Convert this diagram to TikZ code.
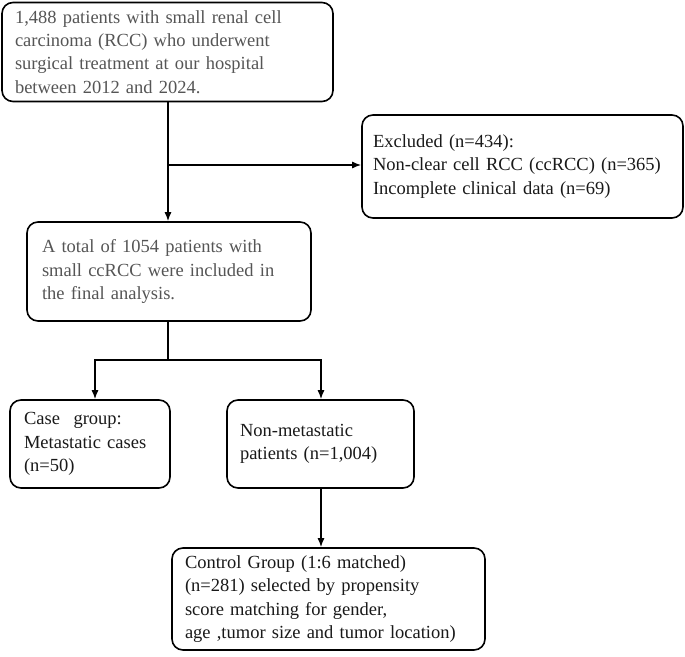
\documentclass[tikz,border=0pt]{standalone}
\usepackage{fontspec}
\setmainfont{Liberation Serif}
\usetikzlibrary{arrows.meta,calc}
\definecolor{greytext}{RGB}{85,85,85}
\definecolor{darktext}{RGB}{25,25,25}
\tikzset{
  flowbox/.style={draw=black, line width=1.6pt, rounded corners=11pt, align=left,
    font=\fontsize{18.5}{23.2}\selectfont, inner ysep=3pt, anchor=center},
  conn/.style={line width=1.4pt, draw=black},
  arr/.style={conn, -{Latex[length=9pt,width=7pt]}}
}
\begin{document}
\begin{tikzpicture}[x=1pt,y=-1pt]
\useasboundingbox (0,0) rectangle (685,656);
\node[flowbox, text=greytext, inner xsep=13pt, text width=305pt, minimum width=331pt, minimum height=99pt] (b1) at (167.5,52)
 {1,488 patients with small renal cell\\carcinoma (RCC) who underwent\\surgical treatment at our hospital\\between 2012 and 2024.};
\node[flowbox, text=darktext, inner xsep=11pt, text width=299pt, minimum width=321pt, minimum height=103pt] (b2) at (522.5,166.5)
 {Excluded (n=434):\\Non-clear cell RCC (ccRCC) (n=365)\\Incomplete clinical data (n=69)};
\node[flowbox, text=greytext, inner xsep=15pt, text width=254pt, minimum width=284pt, minimum height=99pt] (b3) at (169,271.5)
 {A total of 1054 patients with\\small ccRCC were included in\\the final analysis.};
\node[flowbox, text=darktext, inner xsep=14pt, text width=132pt, minimum width=160pt, minimum height=88pt] (b4) at (90,444)
 {Case\hspace{0.4em} group:\\Metastatic cases\\(n=50)};
\node[flowbox, text=darktext, inner xsep=13pt, text width=161pt, minimum width=187pt, minimum height=88pt] (b5) at (320.5,444)
 {Non-metastatic\\patients (n=1,004)};
\node[flowbox, text=darktext, inner xsep=13pt, text width=287pt, minimum width=313pt, minimum height=102pt] (b6) at (328.5,599)
 {Control Group (1:6 matched)\\(n=281) selected by propensity\\score matching for gender,\\age ,tumor size and tumor location)};
\coordinate (j) at (168,165);
\coordinate (ca) at (95,360);
\coordinate (cb) at (321,360);
\draw[arr] (b1.south -| j) -- (j |- b3.north);
\draw[arr] (j) -- (j -| b2.west);
\draw[conn] (b3.south -| j) -- (j |- ca);
\draw[arr] (ca -| j) -- (ca) -- (ca |- b4.north);
\draw[arr] (ca -| j) -- (cb) -- (cb |- b5.north);
\draw[arr] (b5.south -| cb) -- (cb |- b6.north);
\end{tikzpicture}
\end{document}
